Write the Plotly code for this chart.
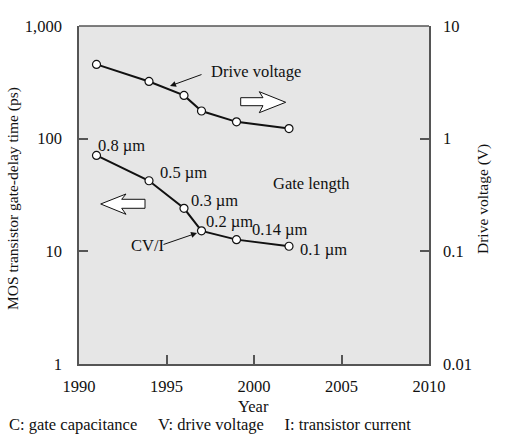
import math
import plotly.graph_objects as go

# Data
years = [1991, 1994, 1996, 1997, 1999, 2002]
delay_ps = [71, 42.3, 24.1, 15.2, 12.7, 11.1]
drive_v = [4.56, 3.22, 2.42, 1.76, 1.41, 1.23]
gate_labels = ["0.8 µm", "0.5 µm", "0.3 µm", "0.2 µm", "0.14 µm", "0.1 µm"]

left_ticks = [1, 10, 100, 1000]
left_ticktext = ["1", "10", "100", "1,000"]
right_ticks = [0.01, 0.1, 1, 10]
right_ticktext = ["0.01", "0.1", "1", "10"]
x_ticks = [1990, 1995, 2000, 2005, 2010]

FONT = "Liberation Serif"
FS = 16.5
W, H = 510, 436
L, R, T, B = 79, 429, 26, 364


def px2paper(px, py):
    return (px - L) / (R - L), (B - py) / (B - T)


def arrow_path(pts):
    parts = []
    for i, (px, py) in enumerate(pts):
        x, y = px2paper(px, py)
        parts.append(("M" if i == 0 else "L") + f"{x:.4f},{y:.4f}")
    return " ".join(parts) + " Z"


fig = go.Figure()

fig.add_trace(go.Scatter(
    x=years, y=delay_ps, mode="lines+markers",
    line=dict(color="#111", width=2),
    marker=dict(size=8, color="white", line=dict(color="#111", width=1.2)),
    showlegend=False, yaxis="y"))

fig.add_trace(go.Scatter(
    x=years, y=drive_v, mode="lines+markers",
    line=dict(color="#111", width=2),
    marker=dict(size=8, color="white", line=dict(color="#111", width=1.2)),
    showlegend=False, yaxis="y2"))

axis_common = dict(
    showline=True, linecolor="#555", linewidth=1.5,
    ticks="inside", ticklen=9, tickcolor="#555", tickwidth=1.5,
    showgrid=False, zeroline=False,
    tickfont=dict(family=FONT, size=FS, color="#111"),
)

# gate-length labels next to points
label_shift = [(-1, 10), (9, 8), (5, 8), (2, 9), (13, 10), (9, -3)]
annotations = []
for yr, d, lab, (dx, dy) in zip(years, delay_ps, gate_labels, label_shift):
    annotations.append(dict(
        x=yr, y=math.log10(d), xref="x", yref="y", text=lab,
        showarrow=False, xanchor="left", yanchor="middle",
        xshift=dx, yshift=dy, font=dict(family=FONT, size=FS, color="#111")))


def text_ann(text, px, py, xanchor="left", angle=0, size=FS):
    x, y = px2paper(px, py)
    return dict(x=x, y=y, xref="paper", yref="paper", text=text,
                showarrow=False, xanchor=xanchor, yanchor="middle",
                textangle=angle, font=dict(family=FONT, size=size, color="#111"))


def arrow_ann(hx, hy, tx, ty):
    x, y = px2paper(hx, hy)
    return dict(x=x, y=y, xref="paper", yref="paper", text="",
                showarrow=True, arrowhead=2, arrowsize=1.2, arrowwidth=1,
                arrowcolor="#111", ax=tx - hx, ay=ty - hy, standoff=0)


gap = "\u00a0" * 5
annotations += [
    text_ann("Drive voltage", 209, 71),
    arrow_ann(170, 86, 203, 74),
    text_ann("Gate length", 271, 184),
    text_ann("CV/I", 129, 245),
    arrow_ann(197, 233, 162, 245),
    text_ann("MOS transistor gate-delay time (ps)", 13, 199, "center", -90, 15.5),
    text_ann("Drive voltage (V)", 483, 199, "center", -90, 15.5),
    text_ann("Year", 253, 406, "center"),
    text_ann("C: gate capacitance" + gap + "V: drive voltage" + gap
             + "I: transistor current", 7, 424),
]

shapes = [
    dict(type="path", xref="paper", yref="paper",
         path=arrow_path([(285.7, 102.3), (259.3, 91.7), (263, 97.7), (240.7, 97.7),
                          (240.7, 105.7), (263, 105.7), (259.3, 112.7)]),
         fillcolor="white", line=dict(color="#111", width=1)),
    dict(type="path", xref="paper", yref="paper",
         path=arrow_path([(100.7, 204), (126, 194), (121.7, 199.3), (145, 199.3),
                          (145, 208.3), (121.7, 208.3), (126, 214.3)]),
         fillcolor="white", line=dict(color="#111", width=1)),
    # top border line
    dict(type="line", xref="paper", yref="paper", x0=0, x1=1, y0=1, y1=1,
         line=dict(color="#555", width=1.5)),
]

fig.update_layout(
    width=W, height=H,
    margin=dict(l=L, r=W - R, t=T, b=H - B),
    paper_bgcolor="white", plot_bgcolor="#e6e6e6",
    font=dict(family=FONT, size=FS, color="#111"),
    xaxis=dict(range=[1990, 2010], tickvals=x_ticks,
               ticklabelstandoff=6, **axis_common),
    yaxis=dict(type="log", range=[0, 3], tickvals=left_ticks, ticktext=left_ticktext,
               ticklabelstandoff=12, **axis_common),
    yaxis2=dict(type="log", range=[-2, 1], tickvals=right_ticks, ticktext=right_ticktext,
                overlaying="y", side="right", ticklabelstandoff=9, **axis_common),
    annotations=annotations, shapes=shapes,
)

fig.write_html("out.html", config={"displayModeBar": False},
               post_script="document.body.style.margin='0';")
